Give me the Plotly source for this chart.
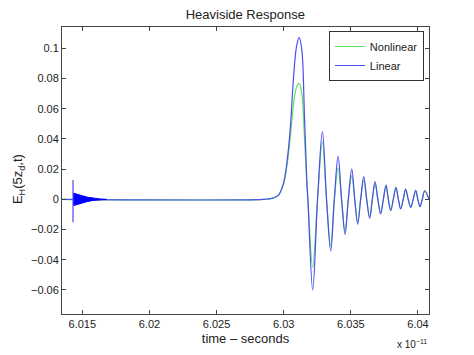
import plotly.graph_objects as go

# ---- data (time in units of 1e-11 s) ----
t_main = [6.01349, 6.02850, 6.02911, 6.02961, 6.02998, 6.03023, 6.03048, 6.03072, 6.03095,
          6.03115, 6.03135, 6.03154, 6.03172, 6.03180, 6.03216, 6.03252, 6.03288, 6.03319,
          6.03350, 6.03377, 6.03405, 6.03431, 6.03457, 6.03481, 6.03507, 6.03529, 6.03551,
          6.03573, 6.03596, 6.03618, 6.03640, 6.03660, 6.03680, 6.03701, 6.03722, 6.03742,
          6.03762, 6.03779, 6.03797, 6.03816, 6.03836, 6.03854, 6.03871, 6.03890, 6.03908,
          6.03927, 6.03946, 6.03964, 6.03983, 6.03999, 6.04015, 6.04032, 6.04050, 6.04082]

linear = [0.0, 0.0, 0.0006, 0.0028, 0.0106, 0.0238, 0.0459, 0.0790, 0.1010,
          0.1070, 0.0989, 0.0570, 0.0128, 0.0, -0.0600, 0.0, 0.0448, 0.0,
          -0.0342, 0.0, 0.0287, 0.0, -0.0232, 0.0, 0.0200, 0.0, -0.0164,
          0.0, 0.0150, 0.0, -0.0126, 0.0, 0.0117, 0.0, -0.0097, 0.0,
          0.0095, 0.0, -0.0075, 0.0, 0.0079, 0.0, -0.0064, 0.0, 0.0068,
          0.0, -0.0053, 0.0, 0.0060, 0.0, -0.0049, 0.0, 0.0057, 0.0]

nonlinear = [0.0, 0.0, 0.0006, 0.0027, 0.0100, 0.0215, 0.0400, 0.0620, 0.0740,
             0.0768, 0.0700, 0.0420, 0.0100, 0.0, -0.0450, 0.0, 0.0380, 0.0,
             -0.0310, 0.0, 0.0207, 0.0, -0.0210, 0.0, 0.0155, 0.0, -0.0150,
             0.0, 0.0125, 0.0, -0.0115, 0.0, 0.0102, 0.0, -0.0090, 0.0,
             0.0087, 0.0, -0.0071, 0.0, 0.0074, 0.0, -0.0061, 0.0, 0.0064,
             0.0, -0.0051, 0.0, 0.0057, 0.0, -0.0047, 0.0, 0.0054, 0.0]

# early high-frequency burst (envelope) and initial spike
burst_t = [6.01431, 6.01460, 6.01500, 6.01540, 6.01580, 6.01630, 6.01680]
burst_upper = [0.0042, 0.0036, 0.0024, 0.0014, 0.0007, 0.0003, 0.0]
burst_lower = [-0.0042, -0.0036, -0.0024, -0.0014, -0.0007, -0.0003, 0.0]
spike_t = [6.01431, 6.01431]
spike_y = [0.0128, -0.0152]

xtick_vals = [6.015, 6.02, 6.025, 6.03, 6.035, 6.04]
xtick_text = ["6.015", "6.02", "6.025", "6.03", "6.035", "6.04"]
ytick_vals = [-0.06, -0.04, -0.02, 0, 0.02, 0.04, 0.06, 0.08, 0.1]
ytick_text = ["\u22120.06", "\u22120.04", "\u22120.02", "0", "0.02", "0.04", "0.06", "0.08", "0.1"]

GREEN = "#5ee35e"
BLUE = "#4c4cf0"

fig = go.Figure()
fig.add_trace(go.Scatter(x=t_main, y=nonlinear, mode="lines", name="Nonlinear",
                         line=dict(color=GREEN, width=1.2, shape="spline", smoothing=1)))
fig.add_trace(go.Scatter(x=t_main, y=linear, mode="lines", name="Linear",
                         line=dict(color=BLUE, width=1.2, shape="spline", smoothing=1)))
fig.add_trace(go.Scatter(x=burst_t + burst_t[::-1], y=burst_upper + burst_lower[::-1],
                         mode="lines", fill="toself", fillcolor="#0000ff",
                         line=dict(color="#0000ff", width=1), showlegend=False, hoverinfo="skip"))
fig.add_trace(go.Scatter(x=spike_t, y=spike_y, mode="lines",
                         line=dict(color=BLUE, width=1.2), showlegend=False, hoverinfo="skip"))

axis_font = dict(family="Liberation Sans, Arial, sans-serif", size=11, color="#222")

fig.update_layout(
    width=474, height=355,
    margin=dict(l=62, r=45, t=27, b=41),
    paper_bgcolor="white", plot_bgcolor="white",
    font=dict(family="Liberation Sans, Arial, sans-serif", size=11, color="#222"),
    title=dict(text="Heaviside Response", x=0.5175, xanchor="center", y=0.96, yanchor="middle",
               font=dict(size=13, color="#222")),
    showlegend=True,
    legend=dict(x=0.986, y=0.986, xanchor="right", yanchor="top",
                bgcolor="white", bordercolor="#333", borderwidth=1,
                font=dict(size=11, color="#222"), tracegroupgap=0,
                itemwidth=30),
    xaxis=dict(range=[6.01349, 6.04082], tickvals=xtick_vals, ticktext=xtick_text,
               ticks="inside", ticklen=4, tickcolor="#444", showline=True, linecolor="#444",
               linewidth=1, mirror="ticks", showgrid=False, zeroline=False, tickfont=axis_font,
               title=dict(text="time \u2013 seconds", font=dict(size=13, color="#222"), standoff=4)),
    yaxis=dict(range=[-0.0759, 0.1141], tickvals=ytick_vals, ticktext=ytick_text,
               ticks="inside", ticklen=4, tickcolor="#444", showline=True, linecolor="#444",
               linewidth=1, mirror="ticks", showgrid=False, zeroline=False, tickfont=axis_font),
    annotations=[
        dict(text="E<sub>H</sub>(5z<sub>d</sub>,t)", xref="paper", yref="paper",
             x=-0.12, y=0.47, xanchor="center", yanchor="middle", textangle=-90,
             showarrow=False, font=dict(size=13, color="#222")),
        dict(text="x 10<sup>\u221211</sup>", xref="paper", yref="paper",
             x=1.0, y=-0.075, xanchor="right", yanchor="top",
             showarrow=False, font=dict(size=10, color="#222")),
    ],
)

fig.write_html("out.html", config={"displayModeBar": False},
               post_script="document.body.style.margin='0';document.body.style.overflow='hidden';")
